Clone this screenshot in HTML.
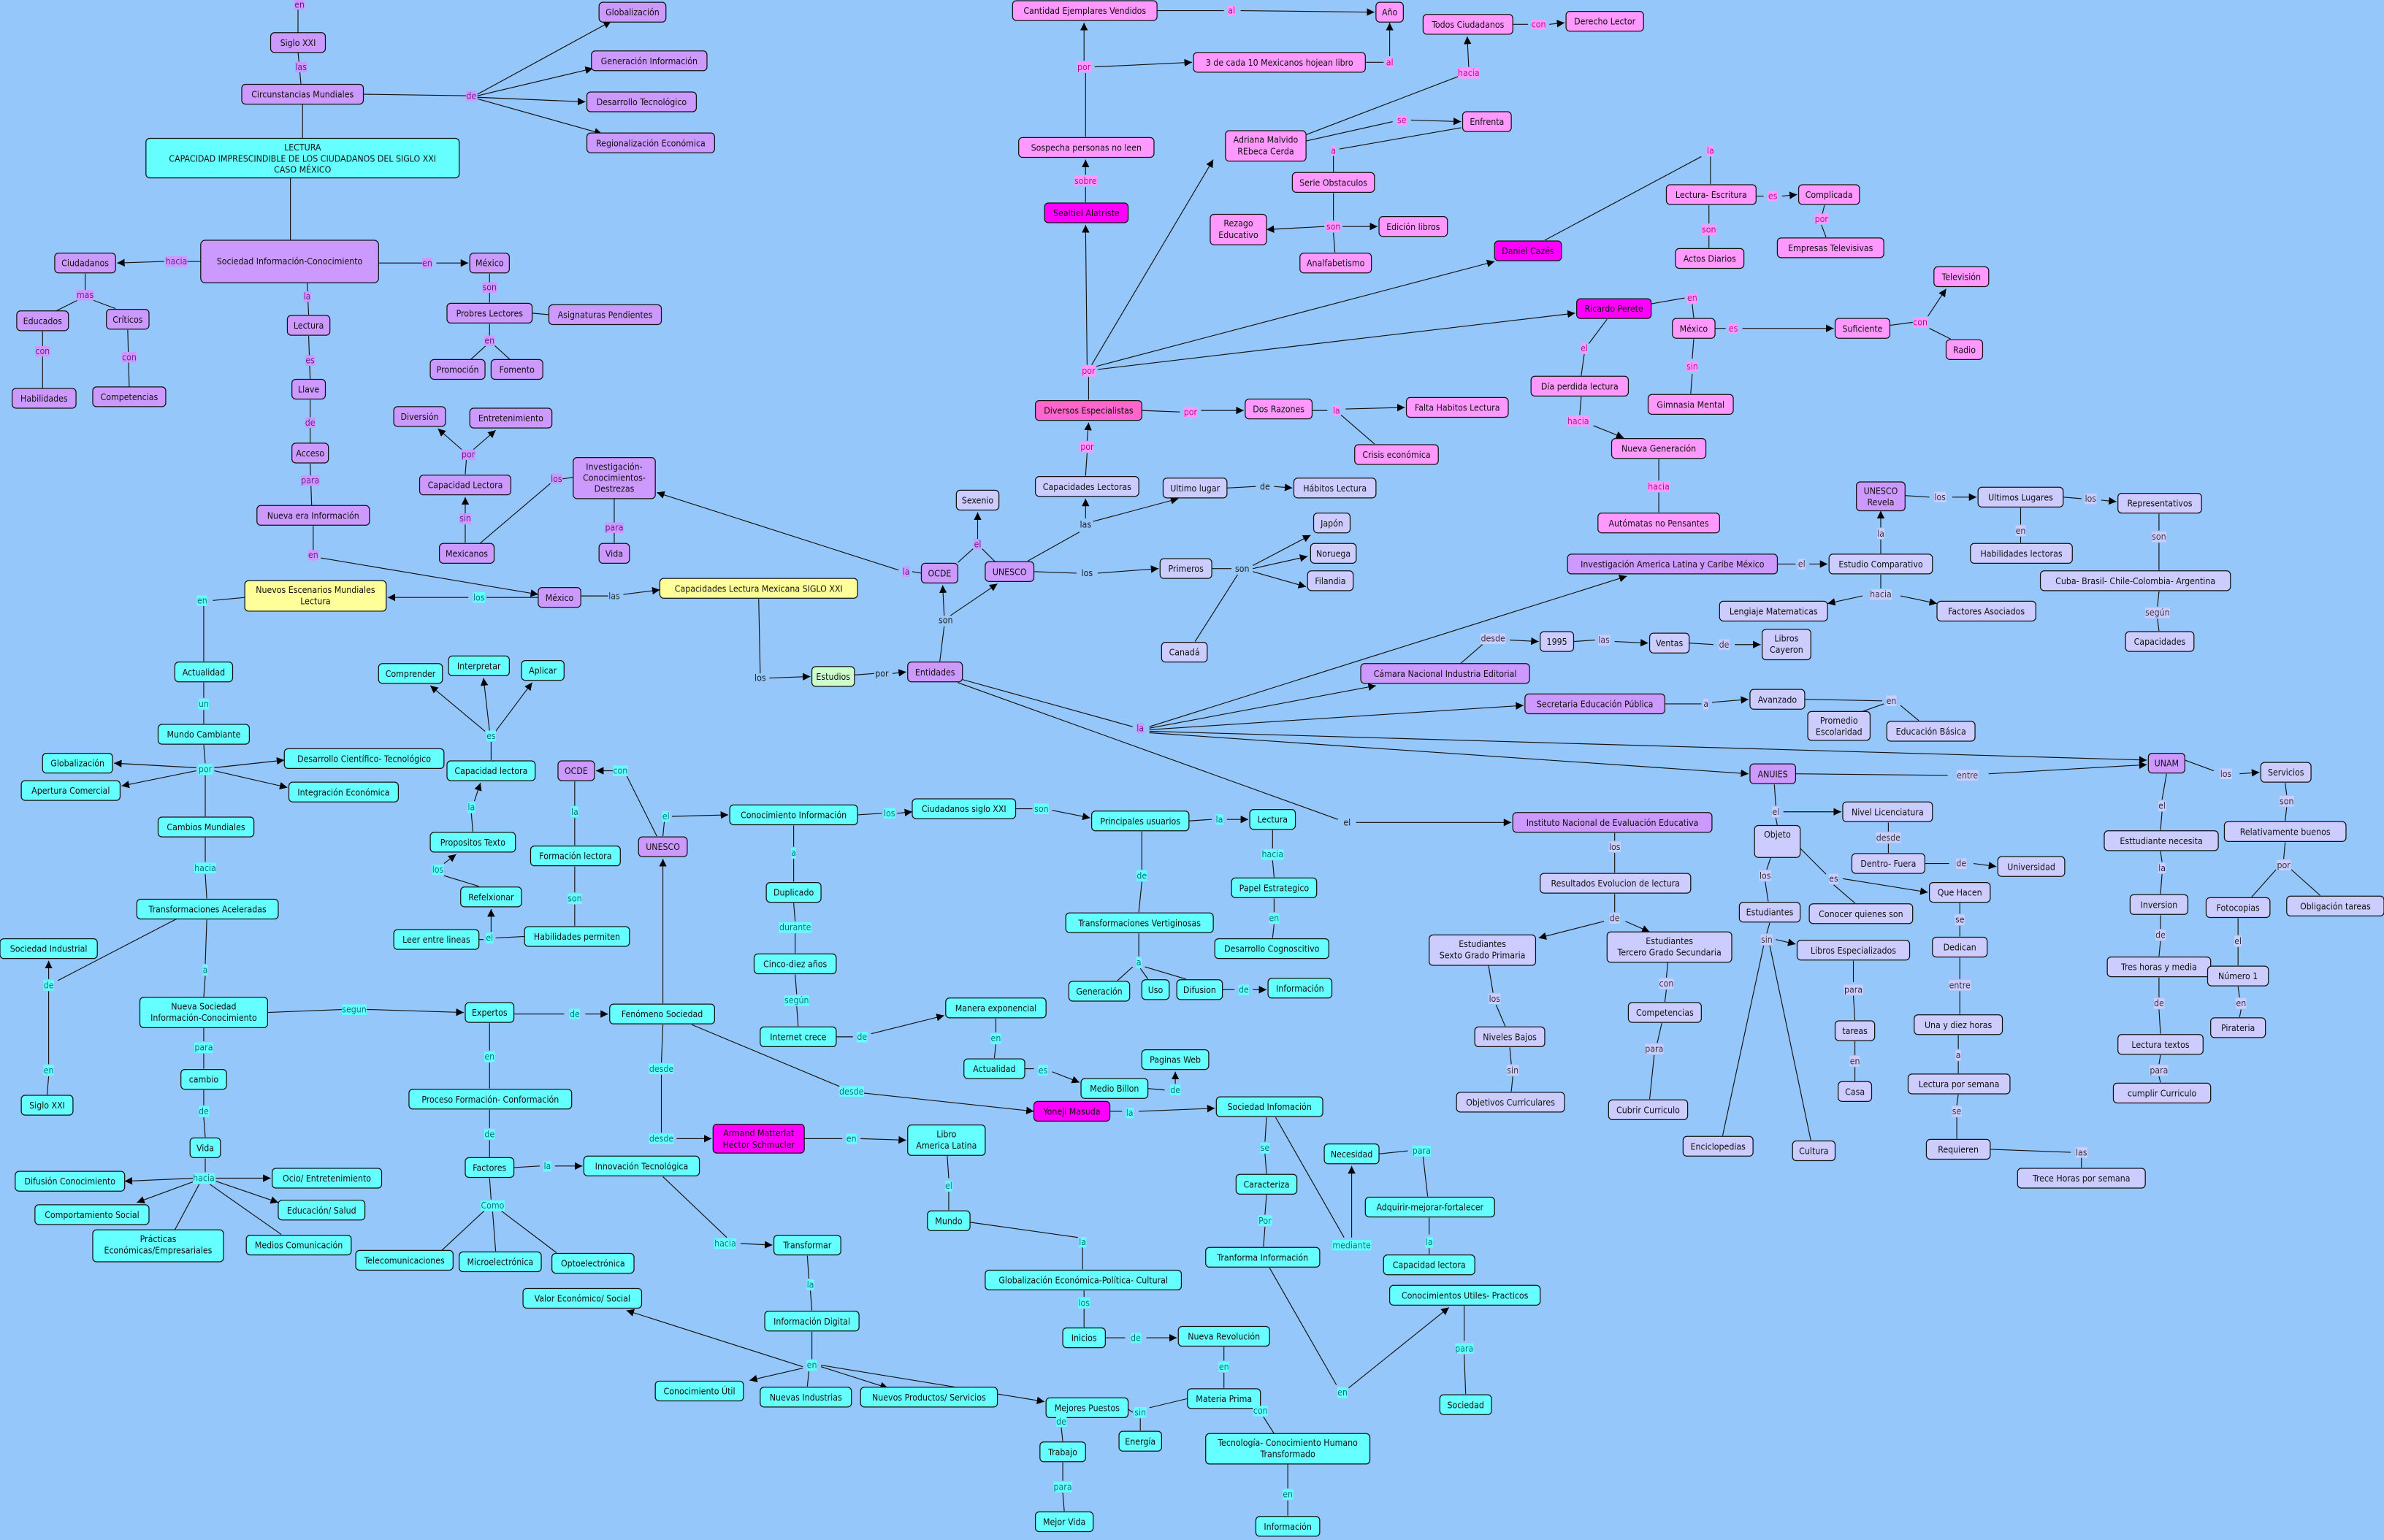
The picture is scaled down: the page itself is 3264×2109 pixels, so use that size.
<!DOCTYPE html>
<html><head><meta charset="utf-8">
<style>
html,body{margin:0;padding:0;background:#95c7fb;}
svg{display:block;}
text{font-family:"DejaVu Sans Condensed","DejaVu Sans","Liberation Sans",sans-serif;font-size:5.9px;text-anchor:middle;fill:#111;}
.n rect{stroke:#111;stroke-width:.6;}
.p{fill:#cc99ff}.c{fill:#66ffff}.k{fill:#ff99ff}.m{fill:#ff00ff}.h{fill:#ff66cc}.l{fill:#ccccff}.y{fill:#ffff99}.g{fill:#ccffcc}
.ln path{stroke:#111;stroke-width:.55;fill:none;}
.ln path.a{marker-end:url(#ar);}
text.lp{fill:#6a0a8a;filter:url(#fp)}
text.lk{fill:#b0008a;filter:url(#fk)}
text.lc{fill:#006a6a;filter:url(#fc)}
text.ll{fill:#222;filter:url(#fl)}
</style></head><body>
<svg width="3264" height="2109" viewBox="0 0 1568 1013" preserveAspectRatio="none" xmlns="http://www.w3.org/2000/svg">
<defs>
<marker id="ar" viewBox="0 0 10 10" refX="10" refY="5" markerWidth="5" markerHeight="5" orient="auto" markerUnits="userSpaceOnUse"><path d="M0 0L10 5L0 10z" fill="#000"/></marker>
<filter id="fp" x="0" y="0" width="1" height="1"><feFlood flood-color="#cc99ff" result="b"/><feMerge><feMergeNode in="b"/><feMergeNode in="SourceGraphic"/></feMerge></filter>
<filter id="fk" x="0" y="0" width="1" height="1"><feFlood flood-color="#ff99ff" result="b"/><feMerge><feMergeNode in="b"/><feMergeNode in="SourceGraphic"/></feMerge></filter>
<filter id="fc" x="0" y="0" width="1" height="1"><feFlood flood-color="#66ffff" result="b"/><feMerge><feMergeNode in="b"/><feMergeNode in="SourceGraphic"/></feMerge></filter>
<filter id="fl" x="0" y="0" width="1" height="1"><feFlood flood-color="#ccccff" result="b"/><feMerge><feMergeNode in="b"/><feMergeNode in="SourceGraphic"/></feMerge></filter>
</defs>
<rect width="1568" height="1013" fill="#95c7fb"/>
<g class="ln">
<!-- purple -->
<path d="M196 6L196 22"/><path d="M196 34L198 56"/><path d="M239 62L310 63"/>
<path class="a" d="M314 62L402 14"/><path class="a" d="M314 63L390 45"/><path class="a" d="M314 64L385 67"/><path class="a" d="M314 65L396 88"/>
<path d="M199 68L199 91"/><path d="M191 117L191 158"/>
<path d="M132 172L116 172"/><path class="a" d="M108 172L77 173"/>
<path d="M249 173L281 173"/><path class="a" d="M287 173L308 173"/>
<path d="M202 186L203 207"/>
<path d="M56 180L56 194"/><path d="M52 197L36 205"/><path d="M60 197L76 203"/>
<path d="M28 218L28 256"/><path d="M84 217L85 255"/>
<path d="M322 180L322 199"/><path d="M350 206L361 207"/>
<path d="M322 213L322 224"/><path d="M320 227L309 237"/><path d="M325 227L336 237"/>
<path d="M203 221L204 250"/><path d="M204 263L204 292"/><path d="M204 305L205 333"/>
<path d="M206 346L206 365"/><path class="a" d="M211 367L354 391"/>
<path d="M306 312L307 299"/><path class="a" d="M304 296L288 282"/><path class="a" d="M311 296L326 283"/>
<path d="M306 357L306 345"/><path class="a" d="M306 338L306 327"/>
<path d="M315 358L362 318"/><path d="M370 315L377 314"/>
<path d="M404 327L404 357"/>
<path d="M354 393L320 393"/><path class="a" d="M308 393L255 393"/>
<path d="M382 392L400 392"/><path class="a" d="M410 391L434 388"/>
<path d="M161 393L140 395"/><path d="M134 398L134 435"/>
<path d="M499 394L500 443"/><path class="a" d="M506 446L533 445"/>
<path d="M562 444L575 443"/><path class="a" d="M587 443L596 442"/>
<path d="M618 436L621 412"/><path class="a" d="M621 405L620 385"/><path class="a" d="M625 405L656 384"/>
<path d="M606 377L600 376"/><path class="a" d="M591 375L432 324"/>
<path d="M630 370L640 361"/><path d="M655 370L646 361"/><path class="a" d="M643 355L643 337"/>
<path d="M676 369L710 350"/><path class="a" d="M714 341L714 328"/><path class="a" d="M719 343L775 328"/>
<path d="M680 376L708 377"/><path class="a" d="M722 377L762 374"/>
<path d="M807 321L826 320"/><path class="a" d="M838 320L850 321"/>
<path d="M797 374L810 374"/><path class="a" d="M824 372L862 352"/><path class="a" d="M824 374L860 366"/><path class="a" d="M824 376L859 386"/><path d="M786 422L814 378"/>
<path d="M633 447L745 478"/><path class="a" d="M756 478L1070 379"/><path class="a" d="M756 479L905 451"/><path class="a" d="M756 480L1002 464"/><path class="a" d="M756 481L1412 500"/><path class="a" d="M756 482L1150 509"/>
<path d="M630 449L880 539"/><path class="a" d="M892 541L994 541"/>
<!-- pink -->
<path d="M714 313L715 298"/><path class="a" d="M715 290L716 278"/>
<path d="M716 263L716 248"/><path class="a" d="M715 240L714 148"/><path class="a" d="M718 240L798 105"/><path class="a" d="M721 241L983 172"/><path class="a" d="M722 243L1036 206"/>
<path d="M714 133L714 123"/><path class="a" d="M714 115L714 105"/>
<path d="M714 90L714 48"/><path class="a" d="M713 40L713 15"/><path class="a" d="M720 44L784 41"/>
<path d="M761 7L805 7"/><path class="a" d="M816 7L904 8"/>
<path d="M898 41L910 41"/><path class="a" d="M914 37L914 15"/>
<path d="M858 89L960 50"/><path class="a" d="M966 44L965 24"/>
<path d="M995 16L1005 16"/><path class="a" d="M1019 16L1029 15"/>
<path d="M858 93L916 80"/><path class="a" d="M928 79L961 80"/>
<path d="M961 84L881 98"/><path d="M877 102L877 113"/>
<path d="M877 127L877 145"/><path class="a" d="M871 149L833 151"/><path class="a" d="M883 149L906 149"/><path d="M877 153L878 166"/>
<path d="M751 270L776 271"/><path class="a" d="M790 270L818 270"/>
<path d="M863 270L873 270"/><path class="a" d="M885 269L924 268"/><path d="M882 273L904 292"/>
<path d="M1016 158L1119 103"/><path d="M1125 103L1125 121"/>
<path d="M1154 129L1160 129"/><path class="a" d="M1172 129L1182 128"/><path d="M1200 135L1198 143"/><path d="M1198 148L1201 156"/>
<path d="M1124 135L1124 147"/><path d="M1124 155L1124 163"/>
<path d="M1085 200L1108 196"/><path d="M1113 200L1114 209"/>
<path d="M1128 216L1135 216"/><path class="a" d="M1146 216L1206 216"/>
<path d="M1243 214L1258 212"/><path class="a" d="M1268 208L1280 190"/><path d="M1269 216L1283 223"/>
<path d="M1114 223L1113 236"/><path d="M1113 246L1112 259"/>
<path d="M1057 210L1045 226"/><path d="M1042 233L1040 247"/>
<path d="M1040 261L1039 273"/><path class="a" d="M1048 280L1068 288"/><path d="M1091 302L1091 316"/><path d="M1091 324L1091 337"/>
<!-- right -->
<path d="M1169 371L1181 371"/><path class="a" d="M1190 371L1202 371"/>
<path d="M1237 364L1237 355"/><path class="a" d="M1237 347L1237 336"/>
<path d="M1253 326L1269 327"/><path class="a" d="M1284 327L1300 327"/>
<path d="M1357 327L1369 328"/><path class="a" d="M1382 329L1392 330"/>
<path d="M1329 334L1329 345"/><path d="M1329 353L1329 357"/>
<path d="M1420 338L1420 349"/><path d="M1420 357L1420 375"/>
<path d="M1420 389L1419 399"/><path d="M1419 407L1420 415"/>
<path d="M1237 378L1237 387"/><path class="a" d="M1225 392L1202 397"/><path class="a" d="M1250 392L1274 397"/>
<path d="M960 437L975 424"/><path class="a" d="M993 421L1012 422"/>
<path d="M1035 422L1049 421"/><path class="a" d="M1062 422L1084 423"/>
<path d="M1111 423L1127 424"/><path class="a" d="M1141 424L1158 424"/>
<path d="M1095 463L1119 463"/><path class="a" d="M1126 462L1150 460"/>
<path d="M1187 460L1238 461"/><path d="M1239 463L1225 468"/><path d="M1250 464L1262 474"/>
<path d="M1181 509L1281 510"/><path class="a" d="M1308 509L1412 503"/>
<path d="M1437 500L1456 507"/><path class="a" d="M1473 509L1486 508"/>
<path d="M1503 515L1504 523"/><path d="M1504 531L1503 540"/>
<path d="M1503 554L1502 565"/><path d="M1497 572L1481 590"/><path d="M1507 572L1526 589"/>
<path d="M1472 604L1472 615"/><path d="M1472 623L1472 635"/><path d="M1472 649L1473 656"/><path d="M1474 664L1473 669"/>
<path d="M1425 509L1422 526"/><path d="M1422 534L1421 546"/>
<path d="M1421 560L1422 567"/><path d="M1422 575L1421 588"/><path d="M1421 602L1421 611"/><path d="M1421 619L1420 629"/><path d="M1420 643L1420 656"/><path d="M1420 664L1421 680"/><path d="M1421 694L1420 700"/><path d="M1420 708L1421 712"/>
<path d="M1167 516L1168 530"/><path d="M1168 538L1169 543"/><path class="a" d="M1173 534L1211 534"/>
<path d="M1242 541L1242 547"/><path d="M1242 555L1242 561"/>
<path d="M1266 568L1282 568"/><path class="a" d="M1298 568L1313 570"/>
<path d="M1165 563L1162 572"/><path d="M1161 580L1163 593"/>
<path d="M1184 558L1201 575"/><path class="a" d="M1212 578L1268 587"/><path d="M1206 582L1220 594"/>
<path d="M1164 607L1162 614"/><path class="a" d="M1168 618L1181 621"/><path d="M1160 622L1133 747"/><path d="M1164 622L1191 750"/>
<path d="M1219 632L1219 646"/><path d="M1219 655L1220 671"/><path d="M1220 685L1220 694"/><path d="M1220 702L1220 711"/>
<path d="M1289 594L1289 601"/><path d="M1289 609L1289 616"/><path d="M1289 630L1289 644"/><path d="M1289 652L1289 667"/><path d="M1288 681L1288 690"/><path d="M1288 698L1288 706"/><path d="M1288 720L1287 727"/><path d="M1287 735L1287 749"/>
<path d="M1309 756L1362 758"/><path d="M1369 761L1369 768"/>
<path d="M1062 548L1062 553"/><path d="M1062 561L1062 574"/>
<path d="M1062 588L1062 600"/><path class="a" d="M1055 606L1012 617"/><path class="a" d="M1069 606L1085 613"/>
<path d="M979 635L982 653"/><path d="M984 661L990 675"/><path d="M993 689L994 700"/><path d="M995 708L994 718"/>
<path d="M1097 633L1096 643"/><path d="M1096 651L1095 659"/><path d="M1093 673L1090 686"/><path d="M1088 694L1085 723"/>
<!-- cyan -->
<path d="M134 449L134 459"/><path d="M134 467L134 476"/>
<path d="M134 490L135 502"/><path class="a" d="M129 505L75 502"/><path class="a" d="M129 507L80 517"/><path class="a" d="M141 505L187 500"/><path class="a" d="M141 507L189 518"/><path d="M135 510L135 537"/>
<path d="M135 551L135 567"/><path d="M135 575L136 591"/>
<path d="M136 605L135 634"/><path d="M135 642L134 656"/>
<path d="M117 604L38 645"/><path class="a" d="M32 644L32 632"/>
<path d="M31 720L32 708"/><path d="M32 700L32 652"/>
<path d="M176 666L226 664"/><path class="a" d="M241 664L305 666"/>
<path d="M134 676L134 685"/><path d="M134 693L134 703"/>
<path d="M134 717L134 727"/><path d="M134 735L135 748"/>
<path d="M135 762L135 771"/><path class="a" d="M128 775L82 777"/><path class="a" d="M142 775L178 775"/><path class="a" d="M128 777L90 791"/><path class="a" d="M142 777L183 791"/><path d="M131 779L115 809"/><path d="M138 779L185 812"/>
<path d="M338 667L371 667"/><path class="a" d="M385 667L400 667"/>
<path d="M322 673L322 691"/><path d="M322 699L322 716"/>
<path d="M322 730L322 742"/><path d="M322 750L322 761"/>
<path d="M338 768L355 767"/><path class="a" d="M365 767L383 767"/>
<path d="M322 775L323 789"/><path d="M319 796L290 823"/><path d="M324 797L326 823"/><path d="M329 796L366 824"/>
<path d="M436 774L478 814"/><path class="a" d="M487 818L508 819"/>
<path d="M323 500L323 488"/><path class="a" d="M319 481L283 451"/><path class="a" d="M322 481L318 446"/><path class="a" d="M326 481L350 449"/>
<path d="M311 547L310 535"/><path class="a" d="M312 527L316 515"/>
<path d="M315 583L292 576"/><path class="a" d="M292 568L300 562"/>
<path d="M345 616L326 617"/><path class="a" d="M323 613L323 598"/><path d="M315 618L318 618"/>
<path d="M378 556L378 538"/><path d="M378 530L378 514"/>
<path d="M378 570L378 587"/><path d="M378 595L378 609"/>
<path d="M432 550L412 510"/><path class="a" d="M403 507L392 507"/>
<path d="M436 550L437 540"/><path class="a" d="M442 537L479 536"/>
<path class="a" d="M436 660L436 565"/>
<path d="M436 674L435 699"/><path d="M435 707L435 745"/><path class="a" d="M445 749L468 749"/>
<path d="M455 674L553 715"/><path class="a" d="M568 719L680 731"/>
<path d="M564 536L580 535"/><path class="a" d="M590 535L600 534"/>
<path d="M668 532L679 532"/><path class="a" d="M692 533L717 538"/>
<path d="M782 540L797 539"/><path class="a" d="M807 539L821 539"/>
<path d="M751 547L751 572"/><path d="M751 580L749 600"/>
<path d="M749 614L749 629"/><path d="M745 636L735 645"/><path d="M750 637L755 644"/><path d="M753 636L780 644"/>
<path d="M804 651L812 651"/><path class="a" d="M824 651L833 651"/>
<path d="M837 546L837 558"/><path d="M837 566L838 577"/><path d="M838 591L838 600"/><path d="M838 608L837 617"/>
<path d="M522 543L522 557"/><path d="M522 565L522 580"/><path d="M522 594L523 606"/><path d="M523 614L523 627"/><path d="M523 641L524 654"/><path d="M524 662L525 675"/>
<path d="M550 682L561 682"/><path class="a" d="M573 680L621 668"/>
<path d="M655 670L655 679"/><path d="M655 687L654 696"/>
<path d="M674 703L680 703"/><path class="a" d="M692 705L710 712"/>
<path d="M755 716L766 717"/><path class="a" d="M773 713L773 705"/>
<path d="M730 731L738 731"/><path class="a" d="M749 731L799 729"/>
<path d="M833 735L832 751"/><path d="M832 759L833 772"/>
<path d="M833 786L832 799"/><path d="M832 807L831 820"/>
<path d="M839 735L884 814"/><path class="a" d="M889 814L889 767"/>
<path d="M907 759L926 757"/><path d="M936 761L939 787"/>
<path d="M940 801L940 812"/><path d="M940 821L940 825"/>
<path d="M835 834L879 911"/><path class="a" d="M887 913L953 860"/>
<path d="M963 859L963 882"/><path d="M963 891L964 917"/>
<path d="M529 749L554 749"/><path class="a" d="M566 749L596 750"/>
<path d="M623 760L624 775"/><path d="M624 784L624 796"/>
<path d="M638 804L709 814"/><path d="M712 820L712 835"/>
<path d="M713 849L713 853"/><path d="M713 861L713 873"/>
<path d="M727 880L740 880"/><path class="a" d="M754 880L774 880"/>
<path d="M805 886L805 895"/><path d="M805 903L805 913"/>
<path d="M781 920L756 926"/><path d="M742 927L745 929"/><path d="M750 933L750 941"/>
<path d="M813 926L826 925"/><path d="M831 932L838 943"/>
<path d="M847 963L847 979"/><path d="M847 987L847 997"/>
<path d="M531 826L532 841"/><path d="M533 849L534 862"/>
<path d="M534 876L534 894"/><path class="a" d="M528 899L412 862"/><path class="a" d="M528 900L493 908"/><path d="M532 902L531 912"/><path class="a" d="M540 899L584 913"/><path class="a" d="M540 898L687 922"/>
<path d="M698 939L699 948"/><path d="M699 962L699 974"/><path d="M699 982L700 994"/>
</g>

<g class="n">
<!-- purple -->
<rect class="p" x="178" y="21.5" width="36" height="13" rx="2.5"/><text x="196" y="30.2">Siglo XXI</text>
<rect class="p" x="159" y="55.5" width="80" height="13" rx="2.5"/><text x="199" y="64.2">Circunstancias Mundiales</text>
<rect class="p" x="394" y="1.5" width="44" height="13" rx="2.5"/><text x="416" y="10.2">Globalización</text>
<rect class="p" x="389" y="33.5" width="76" height="13" rx="2.5"/><text x="427" y="42.2">Generación Información</text>
<rect class="p" x="386" y="60.5" width="72" height="13" rx="2.5"/><text x="422" y="69.2">Desarrollo Tecnológico</text>
<rect class="p" x="386" y="87.5" width="84" height="13" rx="2.5"/><text x="428" y="96.2">Regionalización Económica</text>
<rect class="c" x="96" y="91" width="206" height="26" rx="2.5"/><text x="199" y="99">LECTURA</text><text x="199" y="106.3">CAPACIDAD IMPRESCINDIBLE DE LOS CIUDADANOS DEL SIGLO XXI</text><text x="199" y="113.6">CASO MÉXICO</text>
<rect class="p" x="132" y="158" width="117" height="28" rx="3"/><text x="190.5" y="174">Sociedad Información-Conocimiento</text>
<rect class="p" x="36" y="166.5" width="40" height="13" rx="2.5"/><text x="56" y="175.2">Ciudadanos</text>
<rect class="p" x="11" y="204.5" width="34" height="13" rx="2.5"/><text x="28" y="213.2">Educados</text>
<rect class="p" x="70" y="203.5" width="28" height="13" rx="2.5"/><text x="84" y="212.2">Críticos</text>
<rect class="p" x="8" y="255.5" width="42" height="13" rx="2.5"/><text x="29" y="264.2">Habilidades</text>
<rect class="p" x="61" y="254.5" width="48" height="13" rx="2.5"/><text x="85" y="263.2">Competencias</text>
<rect class="p" x="309" y="166.5" width="26" height="13" rx="2.5"/><text x="322" y="175.2">México</text>
<rect class="p" x="294" y="199.5" width="56" height="13" rx="2.5"/><text x="322" y="208.2">Probres Lectores</text>
<rect class="p" x="361" y="200.5" width="74" height="13" rx="2.5"/><text x="398" y="209.2">Asignaturas Pendientes</text>
<rect class="p" x="283" y="236.5" width="36" height="13" rx="2.5"/><text x="301" y="245.2">Promoción</text>
<rect class="p" x="323" y="236.5" width="34" height="13" rx="2.5"/><text x="340" y="245.2">Fomento</text>
<rect class="p" x="189" y="207.5" width="28" height="13" rx="2.5"/><text x="203" y="216.2">Lectura</text>
<rect class="p" x="192" y="249.5" width="22" height="13" rx="2.5"/><text x="203" y="258.2">Llave</text>
<rect class="p" x="192" y="291.5" width="24" height="13" rx="2.5"/><text x="204" y="300.2">Acceso</text>
<rect class="p" x="169" y="332.5" width="74" height="13" rx="2.5"/><text x="206" y="341.2">Nueva era Información</text>
<rect class="p" x="259" y="267.5" width="34" height="13" rx="2.5"/><text x="276" y="276.2">Diversión</text>
<rect class="p" x="309" y="268.5" width="54" height="13" rx="2.5"/><text x="336" y="277.2">Entretenimiento</text>
<rect class="p" x="276" y="312.5" width="60" height="13" rx="2.5"/><text x="306" y="321.2">Capacidad Lectora</text>
<rect class="p" x="377" y="301" width="54" height="27" rx="2.5"/><text x="404" y="309">Investigación-</text><text x="404" y="316.3">Conocimientos-</text><text x="404" y="323.6">Destrezas</text>
<rect class="p" x="289" y="357.5" width="36" height="13" rx="2.5"/><text x="307" y="366.2">Mexicanos</text>
<rect class="p" x="394" y="357.5" width="20" height="13" rx="2.5"/><text x="404" y="366.2">Vida</text>
<rect class="p" x="354" y="386.5" width="28" height="13" rx="2.5"/><text x="368" y="395.2">México</text>
<rect class="y" x="161" y="382" width="93" height="20" rx="2.5"/><text x="207.5" y="390">Nuevos Escenarios Mundiales</text><text x="207.5" y="397.5">Lectura</text>
<rect class="y" x="434" y="380.5" width="130" height="13" rx="2.5"/><text x="499" y="389.2">Capacidades Lectura Mexicana SIGLO XXI</text>
<rect class="g" x="534" y="438.5" width="28" height="13" rx="2.5"/><text x="548" y="447.2">Estudios</text>
<rect class="p" x="597" y="435.5" width="36" height="13" rx="2.5"/><text x="615" y="444.2">Entidades</text>
<rect class="p" x="606" y="370.5" width="24" height="13" rx="2.5"/><text x="618" y="379.2">OCDE</text>
<rect class="p" x="648" y="369.5" width="32" height="13" rx="2.5"/><text x="664" y="378.2">UNESCO</text>
<rect class="l" x="629" y="322.5" width="28" height="13" rx="2.5"/><text x="643" y="331.2">Sexenio</text>
<rect class="l" x="681" y="313.5" width="68" height="13" rx="2.5"/><text x="715" y="322.2">Capacidades Lectoras</text>
<rect class="l" x="765" y="314.5" width="42" height="13" rx="2.5"/><text x="786" y="323.2">Ultimo lugar</text>
<rect class="l" x="851" y="314.5" width="54" height="13" rx="2.5"/><text x="878" y="323.2">Hábitos Lectura</text>
<rect class="l" x="763" y="367.5" width="34" height="13" rx="2.5"/><text x="780" y="376.2">Primeros</text>
<rect class="l" x="864" y="337.5" width="24" height="13" rx="2.5"/><text x="876" y="346.2">Japón</text>
<rect class="l" x="862" y="357.5" width="30" height="13" rx="2.5"/><text x="877" y="366.2">Noruega</text>
<rect class="l" x="860" y="375.5" width="30" height="13" rx="2.5"/><text x="875" y="384.2">Filandia</text>
<rect class="l" x="764" y="422.5" width="30" height="13" rx="2.5"/><text x="779" y="431.2">Canadá</text>
<!-- pink -->
<rect class="k" x="666" y="0.5" width="95" height="13" rx="2.5"/><text x="713.5" y="9.2">Cantidad Ejemplares Vendidos</text>
<rect class="k" x="905" y="1.5" width="18" height="13" rx="2.5"/><text x="914" y="10.2">Año</text>
<rect class="k" x="936" y="9.5" width="59" height="13" rx="2.5"/><text x="965.5" y="18.2">Todos Ciudadanos</text>
<rect class="k" x="1030" y="7.5" width="51" height="13" rx="2.5"/><text x="1055.5" y="16.2">Derecho Lector</text>
<rect class="k" x="785" y="34.5" width="113" height="13" rx="2.5"/><text x="841.5" y="43.2">3 de cada 10 Mexicanos hojean libro</text>
<rect class="k" x="670" y="90.5" width="89" height="13" rx="2.5"/><text x="714.5" y="99.2">Sospecha personas no leen</text>
<rect class="k" x="806" y="86" width="53" height="20" rx="2.5"/><text x="832.5" y="94">Adriana Malvido</text><text x="832.5" y="101.5">REbeca Cerda</text>
<rect class="k" x="962" y="73.5" width="32" height="13" rx="2.5"/><text x="978" y="82.2">Enfrenta</text>
<rect class="k" x="850" y="113.5" width="54" height="13" rx="2.5"/><text x="877" y="122.2">Serie Obstaculos</text>
<rect class="k" x="796" y="141" width="37" height="20" rx="2.5"/><text x="814.5" y="149">Rezago</text><text x="814.5" y="156.5">Educativo</text>
<rect class="k" x="907" y="142.5" width="45" height="13" rx="2.5"/><text x="929.5" y="151.2">Edición libros</text>
<rect class="k" x="855" y="166.5" width="47" height="13" rx="2.5"/><text x="878.5" y="175.2">Analfabetismo</text>
<rect class="m" x="687" y="133.5" width="55" height="13" rx="2.5"/><text x="714.5" y="142.2">Sealtiel Alatriste</text>
<rect class="h" x="681" y="263.5" width="70" height="13" rx="2.5"/><text x="716" y="272.2">Diversos Especialistas</text>
<rect class="k" x="819" y="262.5" width="44" height="13" rx="2.5"/><text x="841" y="271.2">Dos Razones</text>
<rect class="k" x="925" y="261.5" width="67" height="13" rx="2.5"/><text x="958.5" y="270.2">Falta Habitos Lectura</text>
<rect class="k" x="891" y="292.5" width="55" height="13" rx="2.5"/><text x="918.5" y="301.2">Crisis económica</text>
<rect class="m" x="983" y="158.5" width="44" height="13" rx="2.5"/><text x="1005" y="167.2">Daniel Cazés</text>
<rect class="k" x="1096" y="121.5" width="59" height="13" rx="2.5"/><text x="1125.5" y="130.2">Lectura- Escritura</text>
<rect class="k" x="1183" y="121.5" width="40" height="13" rx="2.5"/><text x="1203" y="130.2">Complicada</text>
<rect class="k" x="1169" y="156.5" width="70" height="13" rx="2.5"/><text x="1204" y="165.2">Empresas Televisivas</text>
<rect class="k" x="1102" y="163.5" width="45" height="13" rx="2.5"/><text x="1124.5" y="172.2">Actos Diarios</text>
<rect class="m" x="1037" y="196.5" width="49" height="13" rx="2.5"/><text x="1061.5" y="205.2">Ricardo Perete</text>
<rect class="k" x="1100" y="209.5" width="28" height="13" rx="2.5"/><text x="1114" y="218.2">México</text>
<rect class="k" x="1207" y="209.5" width="36" height="13" rx="2.5"/><text x="1225" y="218.2">Suficiente</text>
<rect class="k" x="1272" y="175.5" width="36" height="13" rx="2.5"/><text x="1290" y="184.2">Televisión</text>
<rect class="k" x="1280" y="223.5" width="24" height="13" rx="2.5"/><text x="1292" y="232.2">Radio</text>
<rect class="k" x="1007" y="247.5" width="64" height="13" rx="2.5"/><text x="1039" y="256.2">Día perdida lectura</text>
<rect class="k" x="1084" y="259.5" width="56" height="13" rx="2.5"/><text x="1112" y="268.2">Gimnasia Mental</text>
<rect class="k" x="1060" y="288.5" width="62" height="13" rx="2.5"/><text x="1091" y="297.2">Nueva Generación</text>
<rect class="k" x="1051" y="337.5" width="80" height="13" rx="2.5"/><text x="1091" y="346.2">Autómatas no Pensantes</text>
<!-- right -->
<rect class="p" x="1221" y="317" width="32" height="19" rx="2.5"/><text x="1237" y="325">UNESCO</text><text x="1237" y="332.5">Revela</text>
<rect class="l" x="1301" y="320.5" width="56" height="13" rx="2.5"/><text x="1329" y="329.2">Ultimos Lugares</text>
<rect class="l" x="1393" y="324.5" width="55" height="13" rx="2.5"/><text x="1420.5" y="333.2">Representativos</text>
<rect class="l" x="1296" y="357.5" width="67" height="13" rx="2.5"/><text x="1329.5" y="366.2">Habilidades lectoras</text>
<rect class="l" x="1342" y="375.5" width="125" height="13" rx="2.5"/><text x="1404.5" y="384.2">Cuba- Brasil- Chile-Colombia- Argentina</text>
<rect class="l" x="1398" y="415.5" width="45" height="13" rx="2.5"/><text x="1420.5" y="424.2">Capacidades</text>
<rect class="p" x="1031" y="364.5" width="138" height="13" rx="2.5"/><text x="1100" y="373.2">Investigación America Latina y Caribe México</text>
<rect class="l" x="1203" y="364.5" width="68" height="13" rx="2.5"/><text x="1237" y="373.2">Estudio Comparativo</text>
<rect class="l" x="1131" y="395.5" width="71" height="13" rx="2.5"/><text x="1166.5" y="404.2">Lengiaje Matematicas</text>
<rect class="l" x="1274" y="395.5" width="65" height="13" rx="2.5"/><text x="1306.5" y="404.2">Factores Asociados</text>
<rect class="l" x="1013" y="415.5" width="22" height="13" rx="2.5"/><text x="1024" y="424.2">1995</text>
<rect class="l" x="1085" y="416.5" width="26" height="13" rx="2.5"/><text x="1098" y="425.2">Ventas</text>
<rect class="l" x="1159" y="414" width="32" height="20" rx="2.5"/><text x="1175" y="422">Libros</text><text x="1175" y="429.5">Cayeron</text>
<rect class="p" x="895" y="436.5" width="111" height="13" rx="2.5"/><text x="950.5" y="445.2">Cámara Nacional Industria Editorial</text>
<rect class="p" x="1003" y="456.5" width="92" height="13" rx="2.5"/><text x="1049" y="465.2">Secretaria Educación Pública</text>
<rect class="l" x="1151" y="453.5" width="36" height="13" rx="2.5"/><text x="1169" y="462.2">Avanzado</text>
<rect class="l" x="1189" y="468" width="41" height="19" rx="2.5"/><text x="1209.5" y="476">Promedio</text><text x="1209.5" y="483.5">Escolaridad</text>
<rect class="l" x="1241" y="474.5" width="58" height="13" rx="2.5"/><text x="1270" y="483.2">Educación Básica</text>
<rect class="p" x="1151" y="502.5" width="30" height="13" rx="2.5"/><text x="1166" y="511.2">ANUIES</text>
<rect class="p" x="1413" y="495.5" width="24" height="13" rx="2.5"/><text x="1425" y="504.2">UNAM</text>
<rect class="l" x="1487" y="501.5" width="33" height="13" rx="2.5"/><text x="1503.5" y="510.2">Servicios</text>
<rect class="p" x="995" y="534.5" width="131" height="13" rx="2.5"/><text x="1060.5" y="543.2">Instituto Nacional de Evaluación Educativa</text>
<rect class="l" x="1212" y="527.5" width="59" height="13" rx="2.5"/><text x="1241.5" y="536.2">Nivel Licenciatura</text>
<rect class="l" x="1154" y="543" width="30" height="21" rx="2.5"/><text x="1169" y="551">Objeto</text>
<rect class="l" x="1218" y="561.5" width="48" height="13" rx="2.5"/><text x="1242" y="570.2">Dentro- Fuera</text>
<rect class="l" x="1314" y="563.5" width="44" height="13" rx="2.5"/><text x="1336" y="572.2">Universidad</text>
<rect class="l" x="1269" y="580.5" width="40" height="13" rx="2.5"/><text x="1289" y="589.2">Que Hacen</text>
<rect class="l" x="1144" y="593.5" width="40" height="13" rx="2.5"/><text x="1164" y="602.2">Estudiantes</text>
<rect class="l" x="1190" y="594.5" width="68" height="13" rx="2.5"/><text x="1224" y="603.2">Conocer quienes son</text>
<rect class="l" x="1182" y="618.5" width="74" height="13" rx="2.5"/><text x="1219" y="627.2">Libros Especializados</text>
<rect class="l" x="1013" y="574.5" width="99" height="13" rx="2.5"/><text x="1062.5" y="583.2">Resultados Evolucion de lectura</text>
<rect class="l" x="940" y="615" width="70" height="20" rx="2.5"/><text x="975" y="623">Estudiantes</text><text x="975" y="630.5">Sexto Grado Primaria</text>
<rect class="l" x="1057" y="613" width="82" height="20" rx="2.5"/><text x="1098" y="621">Estudiantes</text><text x="1098" y="628.5">Tercero Grado Secundaria</text>
<rect class="l" x="1071" y="659.5" width="48" height="13" rx="2.5"/><text x="1095" y="668.2">Competencias</text>
<rect class="l" x="970" y="675.5" width="46" height="13" rx="2.5"/><text x="993" y="684.2">Niveles Bajos</text>
<rect class="l" x="958" y="718.5" width="71" height="13" rx="2.5"/><text x="993.5" y="727.2">Objetivos Curriculares</text>
<rect class="l" x="1058" y="723.5" width="52" height="13" rx="2.5"/><text x="1084" y="732.2">Cubrir Curriculo</text>
<rect class="l" x="1107" y="747.5" width="46" height="13" rx="2.5"/><text x="1130" y="756.2">Enciclopedias</text>
<rect class="l" x="1179" y="750.5" width="28" height="13" rx="2.5"/><text x="1193" y="759.2">Cultura</text>
<rect class="l" x="1207" y="671.5" width="26" height="13" rx="2.5"/><text x="1220" y="680.2">tareas</text>
<rect class="l" x="1209" y="711.5" width="22" height="13" rx="2.5"/><text x="1220" y="720.2">Casa</text>
<rect class="l" x="1271" y="616.5" width="36" height="13" rx="2.5"/><text x="1289" y="625.2">Dedican</text>
<rect class="l" x="1259" y="667.5" width="58" height="13" rx="2.5"/><text x="1288" y="676.2">Una y diez horas</text>
<rect class="l" x="1255" y="706.5" width="67" height="13" rx="2.5"/><text x="1288.5" y="715.2">Lectura por semana</text>
<rect class="l" x="1267" y="749.5" width="42" height="13" rx="2.5"/><text x="1288" y="758.2">Requieren</text>
<rect class="l" x="1327" y="768.5" width="84" height="13" rx="2.5"/><text x="1369" y="777.2">Trece Horas por semana</text>
<rect class="l" x="1384" y="546.5" width="75" height="13" rx="2.5"/><text x="1421.5" y="555.2">Esttudiante necesita</text>
<rect class="l" x="1401" y="588.5" width="38" height="13" rx="2.5"/><text x="1420" y="597.2">Inversion</text>
<rect class="l" x="1386" y="629.5" width="68" height="13" rx="2.5"/><text x="1420" y="638.2">Tres horas y media</text>
<rect class="l" x="1393" y="680.5" width="56" height="13" rx="2.5"/><text x="1421" y="689.2">Lectura textos</text>
<rect class="l" x="1390" y="712.5" width="64" height="13" rx="2.5"/><text x="1422" y="721.2">cumplir Curriculo</text>
<rect class="l" x="1463" y="540.5" width="80" height="13" rx="2.5"/><text x="1503" y="549.2">Relativamente buenos</text>
<rect class="l" x="1451" y="590.5" width="42" height="13" rx="2.5"/><text x="1472" y="599.2">Fotocopias</text>
<rect class="l" x="1504" y="589.5" width="64" height="13" rx="2.5"/><text x="1536" y="598.2">Obligación tareas</text>
<rect class="l" x="1452" y="635.5" width="40" height="13" rx="2.5"/><text x="1472" y="644.2">Número 1</text>
<rect class="l" x="1454" y="669.5" width="36" height="13" rx="2.5"/><text x="1472" y="678.2">Pirateria</text>
<!-- cyan -->
<rect class="c" x="115" y="435.5" width="38" height="13" rx="2.5"/><text x="134" y="444.2">Actualidad</text>
<rect class="c" x="104" y="476.5" width="60" height="13" rx="2.5"/><text x="134" y="485.2">Mundo Cambiante</text>
<rect class="c" x="28" y="495.5" width="46" height="13" rx="2.5"/><text x="51" y="504.2">Globalización</text>
<rect class="c" x="14" y="513.5" width="65" height="13" rx="2.5"/><text x="46.5" y="522.2">Apertura Comercial</text>
<rect class="c" x="187" y="492.5" width="105" height="13" rx="2.5"/><text x="239.5" y="501.2">Desarrollo Científico- Tecnológico</text>
<rect class="c" x="190" y="514.5" width="72" height="13" rx="2.5"/><text x="226" y="523.2">Integración Económica</text>
<rect class="c" x="104" y="537.5" width="63" height="13" rx="2.5"/><text x="135.5" y="546.2">Cambios Mundiales</text>
<rect class="c" x="90" y="591.5" width="93" height="13" rx="2.5"/><text x="136.5" y="600.2">Transformaciones Aceleradas</text>
<rect class="c" x="0" y="617.5" width="64" height="13" rx="2.5"/><text x="32" y="626.2">Sociedad Industrial</text>
<rect class="c" x="92" y="656" width="84" height="20" rx="2.5"/><text x="134" y="664">Nueva Sociedad</text><text x="134" y="671.5">Información-Conocimiento</text>
<rect class="c" x="14" y="720.5" width="34" height="13" rx="2.5"/><text x="31" y="729.2">Siglo XXI</text>
<rect class="c" x="119" y="703.5" width="30" height="13" rx="2.5"/><text x="134" y="712.2">cambio</text>
<rect class="c" x="125" y="748.5" width="20" height="13" rx="2.5"/><text x="135" y="757.2">Vida</text>
<rect class="c" x="10" y="770.5" width="72" height="13" rx="2.5"/><text x="46" y="779.2">Difusión Conocimiento</text>
<rect class="c" x="179" y="768.5" width="72" height="13" rx="2.5"/><text x="215" y="777.2">Ocio/ Entretenimiento</text>
<rect class="c" x="23" y="792.5" width="75" height="13" rx="2.5"/><text x="60.5" y="801.2">Comportamiento Social</text>
<rect class="c" x="183" y="789.5" width="57" height="13" rx="2.5"/><text x="211.5" y="798.2">Educación/ Salud</text>
<rect class="c" x="61" y="809" width="86" height="21" rx="2.5"/><text x="104" y="817">Prácticas</text><text x="104" y="824.5">Económicas/Empresariales</text>
<rect class="c" x="162" y="812.5" width="69" height="13" rx="2.5"/><text x="196.5" y="821.2">Medios Comunicación</text>
<rect class="c" x="249" y="436.5" width="42" height="13" rx="2.5"/><text x="270" y="445.2">Comprender</text>
<rect class="c" x="295" y="431.5" width="40" height="13" rx="2.5"/><text x="315" y="440.2">Interpretar</text>
<rect class="c" x="343" y="434.5" width="28" height="13" rx="2.5"/><text x="357" y="443.2">Aplicar</text>
<rect class="c" x="294" y="500.5" width="58" height="13" rx="2.5"/><text x="323" y="509.2">Capacidad lectora</text>
<rect class="p" x="367" y="500.5" width="24" height="13" rx="2.5"/><text x="379" y="509.2">OCDE</text>
<rect class="c" x="283" y="547.5" width="56" height="13" rx="2.5"/><text x="311" y="556.2">Propositos Texto</text>
<rect class="c" x="349" y="556.5" width="59" height="13" rx="2.5"/><text x="378.5" y="565.2">Formación lectora</text>
<rect class="c" x="303" y="583.5" width="40" height="13" rx="2.5"/><text x="323" y="592.2">Refelxionar</text>
<rect class="c" x="259" y="611.5" width="56" height="13" rx="2.5"/><text x="287" y="620.2">Leer entre lineas</text>
<rect class="c" x="345" y="609.5" width="69" height="13" rx="2.5"/><text x="379.5" y="618.2">Habilidades permiten</text>
<rect class="p" x="420" y="550.5" width="32" height="13" rx="2.5"/><text x="436" y="559.2">UNESCO</text>
<rect class="c" x="306" y="659.5" width="32" height="13" rx="2.5"/><text x="322" y="668.2">Expertos</text>
<rect class="c" x="401" y="660.5" width="69" height="13" rx="2.5"/><text x="435.5" y="669.2">Fenómeno Sociedad</text>
<rect class="c" x="269" y="716.5" width="107" height="13" rx="2.5"/><text x="322.5" y="725.2">Proceso Formación- Conformación</text>
<rect class="c" x="306" y="761.5" width="32" height="13" rx="2.5"/><text x="322" y="770.2">Factores</text>
<rect class="c" x="384" y="760.5" width="76" height="13" rx="2.5"/><text x="422" y="769.2">Innovación Tecnológica</text>
<rect class="c" x="234" y="822.5" width="64" height="13" rx="2.5"/><text x="266" y="831.2">Telecomunicaciones</text>
<rect class="c" x="302" y="823.5" width="54" height="13" rx="2.5"/><text x="329" y="832.2">Microelectrónica</text>
<rect class="c" x="363" y="824.5" width="54" height="13" rx="2.5"/><text x="390" y="833.2">Optoelectrónica</text>
<rect class="c" x="344" y="847.5" width="78" height="13" rx="2.5"/><text x="383" y="856.2">Valor Económico/ Social</text>
<rect class="m" x="469" y="739.5" width="60" height="19" rx="2.5"/><text x="499" y="747.5">Armand Matterlat</text><text x="499" y="755">Héctor Schmucler</text>
<rect class="c" x="597" y="740" width="51" height="20" rx="2.5"/><text x="622.5" y="748">Libro</text><text x="622.5" y="755.5">America Latina</text>
<rect class="c" x="610" y="796.5" width="28" height="13" rx="2.5"/><text x="624" y="805.2">Mundo</text>
<rect class="c" x="480" y="529.5" width="84" height="13" rx="2.5"/><text x="522" y="538.2">Conocimiento Información</text>
<rect class="c" x="600" y="525.5" width="68" height="13" rx="2.5"/><text x="634" y="534.2">Ciudadanos siglo XXI</text>
<rect class="c" x="718" y="533.5" width="64" height="13" rx="2.5"/><text x="750" y="542.2">Principales usuarios</text>
<rect class="c" x="822" y="532.5" width="30" height="13" rx="2.5"/><text x="837" y="541.2">Lectura</text>
<rect class="c" x="504" y="580.5" width="36" height="13" rx="2.5"/><text x="522" y="589.2">Duplicado</text>
<rect class="c" x="496" y="627.5" width="54" height="13" rx="2.5"/><text x="523" y="636.2">Cinco-diez años</text>
<rect class="c" x="500" y="675.5" width="50" height="13" rx="2.5"/><text x="525" y="684.2">Internet crece</text>
<rect class="c" x="622" y="656.5" width="66" height="13" rx="2.5"/><text x="655" y="665.2">Manera exponencial</text>
<rect class="c" x="634" y="696.5" width="40" height="13" rx="2.5"/><text x="654" y="705.2">Actualidad</text>
<rect class="c" x="711" y="709.5" width="44" height="13" rx="2.5"/><text x="733" y="718.2">Medio Billon</text>
<rect class="c" x="751" y="690.5" width="44" height="13" rx="2.5"/><text x="773" y="699.2">Paginas Web</text>
<rect class="m" x="680" y="724.5" width="50" height="13" rx="2.5"/><text x="705" y="733.2">Yoneji Masuda</text>
<rect class="c" x="800" y="721.5" width="70" height="13" rx="2.5"/><text x="835" y="730.2">Sociedad Infomación</text>
<rect class="c" x="701" y="600.5" width="97" height="13" rx="2.5"/><text x="749.5" y="609.2">Transformaciones Vertiginosas</text>
<rect class="c" x="703" y="645.5" width="40" height="13" rx="2.5"/><text x="723" y="654.2">Generación</text>
<rect class="c" x="751" y="644.5" width="18" height="13" rx="2.5"/><text x="760" y="653.2">Uso</text>
<rect class="c" x="774" y="644.5" width="30" height="13" rx="2.5"/><text x="789" y="653.2">Difusion</text>
<rect class="c" x="834" y="643.5" width="42" height="13" rx="2.5"/><text x="855" y="652.2">Información</text>
<rect class="c" x="810" y="577.5" width="56" height="13" rx="2.5"/><text x="838" y="586.2">Papel Estrategico</text>
<rect class="c" x="799" y="617.5" width="75" height="13" rx="2.5"/><text x="836.5" y="626.2">Desarrollo Cognoscitivo</text>
<rect class="c" x="871" y="752.5" width="36" height="13" rx="2.5"/><text x="889" y="761.2">Necesidad</text>
<rect class="c" x="898" y="787.5" width="85" height="13" rx="2.5"/><text x="940.5" y="796.2">Adquirir-mejorar-fortalecer</text>
<rect class="c" x="910" y="825.5" width="60" height="13" rx="2.5"/><text x="940" y="834.2">Capacidad lectora</text>
<rect class="c" x="813" y="772.5" width="40" height="13" rx="2.5"/><text x="833" y="781.2">Caracteriza</text>
<rect class="c" x="793" y="820.5" width="75" height="13" rx="2.5"/><text x="830.5" y="829.2">Tranforma Información</text>
<rect class="c" x="914" y="845.5" width="99" height="13" rx="2.5"/><text x="963.5" y="854.2">Conocimientos Utiles- Practicos</text>
<rect class="c" x="947" y="917.5" width="34" height="13" rx="2.5"/><text x="964" y="926.2">Sociedad</text>
<rect class="c" x="509" y="812.5" width="44" height="13" rx="2.5"/><text x="531" y="821.2">Transformar</text>
<rect class="c" x="503" y="862.5" width="62" height="13" rx="2.5"/><text x="534" y="871.2">Información Digital</text>
<rect class="c" x="648" y="835.5" width="129" height="13" rx="2.5"/><text x="712.5" y="844.2">Globalización Económica-Política- Cultural</text>
<rect class="c" x="699" y="873.5" width="28" height="13" rx="2.5"/><text x="713" y="882.2">Inicios</text>
<rect class="c" x="775" y="872.5" width="60" height="13" rx="2.5"/><text x="805" y="881.2">Nueva Revolución</text>
<rect class="c" x="431" y="908.5" width="58" height="13" rx="2.5"/><text x="460" y="917.2">Conocimiento Útil</text>
<rect class="c" x="500" y="912.5" width="60" height="13" rx="2.5"/><text x="530" y="921.2">Nuevas Industrias</text>
<rect class="c" x="566" y="912.5" width="90" height="13" rx="2.5"/><text x="611" y="921.2">Nuevos Productos/ Servicios</text>
<rect class="c" x="688" y="919.5" width="54" height="13" rx="2.5"/><text x="715" y="928.2">Mejores Puestos</text>
<rect class="c" x="781" y="913.5" width="48" height="13" rx="2.5"/><text x="805" y="922.2">Materia Prima</text>
<rect class="c" x="736" y="941.5" width="28" height="13" rx="2.5"/><text x="750" y="950.2">Energía</text>
<rect class="c" x="684" y="948.5" width="30" height="13" rx="2.5"/><text x="699" y="957.2">Trabajo</text>
<rect class="c" x="793" y="943" width="108" height="20" rx="2.5"/><text x="847" y="951">Tecnología- Conocimiento Humano</text><text x="847" y="958.5">Transformado</text>
<rect class="c" x="681" y="994.5" width="38" height="13" rx="2.5"/><text x="700" y="1003.2">Mejor Vida</text>
<rect class="c" x="826" y="997.5" width="42" height="13" rx="2.5"/><text x="847" y="1006.2">Información</text>
</g>

<g>
<!-- purple labels -->
<text class="lp" x="197" y="5">en</text><text class="lp" x="198" y="46">las</text><text class="lp" x="310" y="65">de</text>
<text class="lp" x="116" y="174">hacia</text><text class="lp" x="281" y="175">en</text><text class="lp" x="202" y="197">la</text>
<text class="lp" x="56" y="196">mas</text><text class="lp" x="28" y="233">con</text><text class="lp" x="85" y="237">con</text>
<text class="lp" x="322" y="191">son</text><text class="lp" x="322" y="226">en</text>
<text class="lp" x="204" y="239">es</text><text class="lp" x="204" y="280">de</text><text class="lp" x="204" y="318">para</text>
<text class="lp" x="206" y="367">en</text><text class="lp" x="308" y="301">por</text><text class="lp" x="306" y="343">sin</text>
<text class="lp" x="366" y="317">los</text><text class="lp" x="404" y="349">para</text>
<text class="lc" x="315" y="395">los</text><text class="ll" x="404" y="394" style="filter:none;fill:#333">las</text>
<text class="lc" x="133" y="397">en</text>
<text class="ll" x="500" y="448" style="filter:none">los</text><text class="ll" x="580" y="445" style="filter:none">por</text>
<text class="ll" x="622" y="410" style="filter:none">son</text><text class="lp" x="596" y="378">la</text><text class="lp" x="643" y="360">el</text>
<text class="ll" x="714" y="347" style="filter:none">las</text><text class="ll" x="715" y="379" style="filter:none">los</text>
<text class="ll" x="832" y="322" style="filter:none">de</text><text class="ll" x="817" y="376" style="filter:none">son</text>
<text class="lp" x="750" y="481">la</text><text class="ll" x="886" y="543" style="filter:none">el</text>
<!-- pink labels -->
<text class="lk" x="715" y="296">por</text><text class="lk" x="716" y="246">por</text><text class="lk" x="714" y="121">sobre</text>
<text class="lk" x="713" y="46">por</text><text class="lk" x="810" y="9">al</text><text class="lk" x="914" y="43">al</text>
<text class="lk" x="966" y="50">hacia</text><text class="lk" x="1012" y="18">con</text><text class="lk" x="922" y="81">se</text>
<text class="lk" x="877" y="101">a</text><text class="lk" x="877" y="151">son</text>
<text class="lk" x="783" y="273">por</text><text class="lk" x="879" y="272">la</text>
<text class="lk" x="1125" y="101">la</text><text class="lk" x="1166" y="131">es</text><text class="lk" x="1198" y="146">por</text><text class="lk" x="1124" y="153">son</text>
<text class="lk" x="1113" y="198">en</text><text class="lk" x="1140" y="218">es</text><text class="lk" x="1263" y="214">con</text><text class="lk" x="1113" y="243">sin</text>
<text class="lk" x="1042" y="231">el</text><text class="lk" x="1038" y="279">hacia</text><text class="lk" x="1091" y="322">hacia</text>
<!-- lavender labels -->
<text class="ll" x="1185" y="373">el</text><text class="ll" x="1237" y="353">la</text><text class="ll" x="1276" y="329">los</text><text class="ll" x="1375" y="330">los</text>
<text class="ll" x="1329" y="351">en</text><text class="ll" x="1420" y="355">son</text><text class="ll" x="1419" y="405">según</text><text class="ll" x="1237" y="393">hacia</text>
<text class="ll" x="982" y="422">desde</text><text class="ll" x="1055" y="423">las</text><text class="ll" x="1134" y="426">de</text>
<text class="ll" x="1122" y="465">a</text><text class="ll" x="1244" y="463">en</text><text class="ll" x="1294" y="512">entre</text><text class="ll" x="1464" y="511">los</text>
<text class="ll" x="1504" y="529">son</text><text class="ll" x="1502" y="571">por</text><text class="ll" x="1472" y="621">el</text><text class="ll" x="1474" y="662">en</text>
<text class="ll" x="1422" y="532">el</text><text class="ll" x="1422" y="573">la</text><text class="ll" x="1421" y="617">de</text><text class="ll" x="1420" y="662">de</text><text class="ll" x="1420" y="706">para</text>
<text class="ll" x="1168" y="536">el</text><text class="ll" x="1242" y="553">desde</text><text class="ll" x="1290" y="570">de</text>
<text class="ll" x="1161" y="578">los</text><text class="ll" x="1206" y="580">es</text><text class="ll" x="1162" y="620">sin</text>
<text class="ll" x="1219" y="653">para</text><text class="ll" x="1220" y="700">en</text>
<text class="ll" x="1289" y="607">se</text><text class="ll" x="1289" y="650">entre</text><text class="ll" x="1288" y="696">a</text><text class="ll" x="1287" y="733">se</text><text class="ll" x="1369" y="760">las</text>
<text class="ll" x="1062" y="559">los</text><text class="ll" x="1062" y="606">de</text><text class="ll" x="983" y="659">los</text><text class="ll" x="995" y="706">sin</text>
<text class="ll" x="1096" y="649">con</text><text class="ll" x="1088" y="692">para</text>
<!-- cyan labels -->
<text class="lc" x="134" y="465">un</text><text class="lc" x="135" y="508">por</text><text class="lc" x="135" y="573">hacia</text><text class="lc" x="135" y="640">a</text>
<text class="lc" x="32" y="650">de</text><text class="lc" x="32" y="706">en</text><text class="lc" x="233" y="666">segun</text>
<text class="lc" x="134" y="691">para</text><text class="lc" x="134" y="733">de</text><text class="lc" x="134" y="777">hacia</text>
<text class="lc" x="378" y="669">de</text><text class="lc" x="322" y="697">en</text><text class="lc" x="322" y="748">de</text>
<text class="lc" x="360" y="769">la</text><text class="lc" x="324" y="795">Como</text><text class="lc" x="477" y="820">hacia</text>
<text class="lc" x="323" y="486">es</text><text class="lc" x="310" y="533">la</text><text class="lc" x="288" y="574">los</text><text class="lc" x="322" y="619">el</text>
<text class="lc" x="378" y="536">la</text><text class="lc" x="378" y="593">son</text><text class="lc" x="408" y="509">con</text><text class="lc" x="438" y="539">el</text>
<text class="lc" x="435" y="705">desde</text><text class="lc" x="435" y="751">desde</text><text class="lc" x="560" y="720">desde</text>
<text class="lc" x="585" y="537">los</text><text class="lc" x="685" y="534">son</text><text class="lc" x="802" y="541">la</text>
<text class="lc" x="751" y="578">de</text><text class="lc" x="749" y="635">a</text><text class="lc" x="818" y="653">de</text>
<text class="lc" x="837" y="564">hacia</text><text class="lc" x="838" y="606">en</text>
<text class="lc" x="522" y="563">a</text><text class="lc" x="523" y="612">durante</text><text class="lc" x="524" y="660">según</text>
<text class="lc" x="567" y="684">de</text><text class="lc" x="655" y="685">en</text><text class="lc" x="686" y="706">es</text><text class="lc" x="773" y="719">de</text>
<text class="lc" x="743" y="734">la</text><text class="lc" x="832" y="757">se</text><text class="lc" x="832" y="805">Por</text>
<text class="lc" x="889" y="821">mediante</text><text class="lc" x="935" y="759">para</text><text class="lc" x="940" y="819">la</text>
<text class="lc" x="883" y="918">en</text><text class="lc" x="963" y="889">para</text>
<text class="lc" x="560" y="751">en</text><text class="lc" x="624" y="782">el</text><text class="lc" x="712" y="819">la</text>
<text class="lc" x="713" y="859">los</text><text class="lc" x="747" y="882">de</text><text class="lc" x="805" y="901">en</text>
<text class="lc" x="750" y="931">sin</text><text class="lc" x="829" y="930">con</text><text class="lc" x="847" y="985">en</text>
<text class="lc" x="533" y="847">la</text><text class="lc" x="534" y="900">en</text>
<text class="lc" x="698" y="937">de</text><text class="lc" x="699" y="980">para</text>
</g>
</svg>
</body></html>
